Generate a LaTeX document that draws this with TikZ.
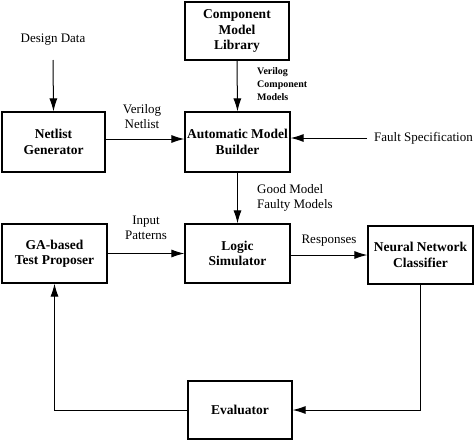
\documentclass[tikz,border=0pt]{standalone}
\usepackage{fontspec}
\setmainfont{Liberation Serif}
\usetikzlibrary{arrows.meta}
\begin{document}
\begin{tikzpicture}[x=1pt,y=-1pt,
  box/.style={draw,line width=1.2pt,align=center,font=\fontsize{13.5}{15.5}\selectfont\bfseries,inner sep=0pt},
  lbl/.style={align=center,font=\fontsize{13}{15}\selectfont,inner sep=0pt},
  slbl/.style={align=left,font=\fontsize{10}{13}\selectfont\bfseries,inner sep=0pt},
  arr/.style={line width=1pt,-{Latex[length=13pt,width=8pt]}}]
\useasboundingbox (0,0) rectangle (474,440);
\node[box,minimum width=104pt,minimum height=58pt] (cml) at (237,31) {Component\\Model\\Library};
\node[box,minimum width=105pt,minimum height=60pt] (amb) at (237.5,142) {Automatic Model\\Builder};
\node[box,minimum width=103pt,minimum height=60pt] (ng) at (53.5,142) {Netlist\\Generator};
\node[box,minimum width=105pt,minimum height=59pt] (ga) at (54.5,253.5) {GA-based\\Test Proposer};
\node[box,minimum width=105pt,minimum height=59pt] (ls) at (237.5,253.5) {Logic\\Simulator};
\node[box,minimum width=105pt,minimum height=58pt] (nn) at (420.5,255) {Neural Network\\Classifier};
\node[box,minimum width=104pt,minimum height=58pt] (ev) at (240,410) {Evaluator};

\node[lbl] (dd) at (53,40) {Design Data};
\node[lbl,anchor=east] (fs) at (473,138) {Fault Specification};
\node[lbl] (vn) at (142,117) {Verilog\\Netlist};
\node[slbl,anchor=north west] (vcm) at (257,67) {Verilog\\Component\\Models};
\node[lbl,align=left,anchor=north west] (gm) at (257,184) {Good Model\\Faulty Models};
\node[lbl] (ip) at (146,228) {Input\\Patterns};
\node[lbl] (rs) at (329,241) {Responses};

\coordinate (ddend) at (53,60);
\coordinate (fsend) at ([xshift=-7pt]fs.west);
\coordinate (nnc) at (nn.south |- ev.east);
\coordinate (gac) at (ga.south |- ev.west);
\draw[arr] (ddend) -- (ng.north);
\draw[arr] (cml.south) -- (amb.north);
\draw[arr] ([yshift=3pt]ng.east) -- ([yshift=3pt]amb.west);
\draw[arr] (fsend) -- (fsend -| amb.east);
\draw[arr] (amb.south) -- (ls.north);
\draw[arr] (ga.east) -- (ls.west);
\draw[arr] (ls.east |- nn.west) -- (nn.west);
\draw[arr] (nn.south) -- (nnc) -- (ev.east);
\draw[arr] (ev.west) -- (gac) -- (ga.south);
\end{tikzpicture}
\end{document}
